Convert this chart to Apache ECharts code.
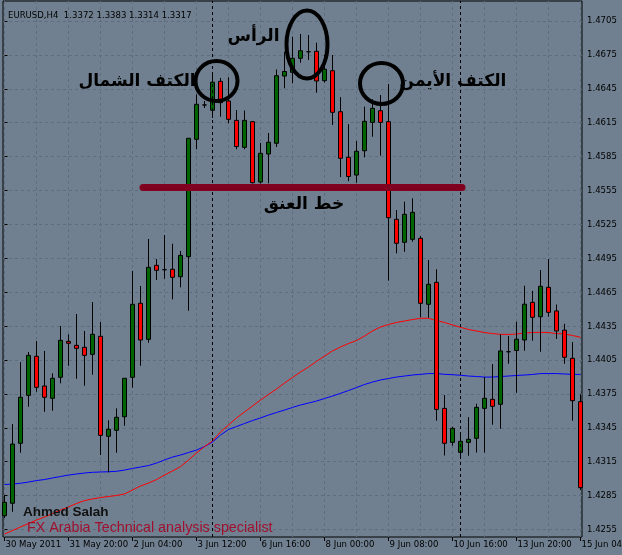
<!DOCTYPE html>
<html><head><meta charset="utf-8">
<script src="https://cdn.jsdelivr.net/npm/echarts/dist/echarts.min.js"></script>
<style>html,body{margin:0;padding:0;background:#708090;}#c{width:622px;height:555px;}</style>
</head><body><div id="c"></div>
<script>
const opens = [
1.42672,1.42782,1.43313,1.43737,1.44083,1.43820,1.43711,1.43897,1.44215,1.44180,
1.44162,1.44100,1.44260,1.43375,1.43428,1.43548,1.43897,1.44552,1.44233,1.44888,
1.44849,1.44853,1.44787,1.44964,1.46003,1.46307,1.46260,1.46516,1.46342,1.46171,
1.45932,1.46159,1.45625,1.45873,1.45968,1.46563,1.46596,1.46720,1.46778,1.46782,
1.46522,1.46610,1.46247,1.45844,1.45687,1.45902,1.46153,1.46256,1.46159,1.45295,
1.45092,1.45118,1.45127,1.44543,1.44737,1.43622,1.43321,1.43233,1.43321,1.43357,
1.43622,1.43702,1.43658,1.44123,1.44134,1.44227,1.44560,1.44433,1.44693,1.44484,
1.44314,1.44065,1.43681];
const closes = [
1.42790,1.43306,1.43720,1.44091,1.43808,1.43720,1.43888,1.44224,1.44198,1.44153,
1.44091,1.44277,1.43383,1.43437,1.43543,1.43888,1.44543,1.44227,1.44870,1.44844,
1.44849,1.44782,1.44976,1.46012,1.46313,1.46307,1.46508,1.46327,1.46180,1.45939,
1.46171,1.45619,1.45879,1.45977,1.46566,1.46603,1.46720,1.46787,1.46778,1.46519,
1.46623,1.46242,1.45835,1.45674,1.45897,1.46162,1.46277,1.46153,1.45309,1.45083,
1.45339,1.45357,1.44552,1.44720,1.43613,1.43313,1.43445,1.43330,1.43348,1.43631,
1.43711,1.43640,1.44130,1.44123,1.44234,1.44544,1.44428,1.44702,1.44472,1.44307,
1.44074,1.43690,1.42920];
const lows = [
1.42652,1.42707,1.43229,1.43637,1.43769,1.43592,1.43601,1.43844,1.43999,1.43884,
1.43822,1.43920,1.43209,1.43056,1.43229,1.43468,1.43805,1.43999,1.44203,1.44758,
1.44769,1.44587,1.44693,1.44486,1.45915,1.46280,1.46192,1.46203,1.46145,1.45915,
1.45915,1.45612,1.45612,1.45614,1.45935,1.46454,1.46499,1.46681,1.46705,1.46415,
1.46504,1.46130,1.45669,1.45632,1.45619,1.45844,1.46026,1.45858,1.44752,1.44994,
1.45008,1.45097,1.44428,1.44423,1.43513,1.43205,1.43291,1.43194,1.43203,1.43231,
1.43231,1.43477,1.43442,1.44017,1.43760,1.44132,1.44221,1.44123,1.44433,1.44236,
1.44017,1.43512,1.42899];
const highs = [
1.42855,1.43483,1.44032,1.44121,1.44218,1.44130,1.43932,1.44351,1.44277,1.44457,
1.44307,1.44563,1.44386,1.43516,1.43622,1.43890,1.44838,1.44705,1.45121,1.44944,
1.45156,1.45079,1.45015,1.46015,1.46401,1.46342,1.46572,1.46546,1.46552,1.46262,
1.46258,1.46165,1.45970,1.46059,1.46621,1.46778,1.46911,1.46935,1.46926,1.46858,
1.46749,1.46749,1.46377,1.46137,1.45988,1.46292,1.46357,1.46395,1.46492,1.45377,
1.45451,1.45481,1.45147,1.44935,1.44853,1.43740,1.43460,1.43386,1.43545,1.43663,
1.43899,1.44014,1.44277,1.44262,1.44389,1.44707,1.44662,1.44846,1.44944,1.44541,
1.44371,1.44209,1.43746];
const maRed = [
1.42510,1.42541,1.42572,1.42603,1.42634,1.42660,1.42691,1.42722,1.42749,1.42780,
1.42806,1.42820,1.42833,1.42842,1.42851,1.42864,1.42899,1.42935,1.42961,1.42992,
1.43032,1.43068,1.43106,1.43165,1.43227,1.43284,1.43333,1.43413,1.43475,1.43537,
1.43590,1.43643,1.43696,1.43745,1.43793,1.43846,1.43895,1.43944,1.43988,1.44037,
1.44085,1.44130,1.44165,1.44196,1.44222,1.44262,1.44307,1.44342,1.44364,1.44382,
1.44395,1.44408,1.44419,1.44419,1.44399,1.44382,1.44360,1.44339,1.44320,1.44307,
1.44293,1.44284,1.44277,1.44276,1.44280,1.44289,1.44293,1.44295,1.44293,1.44284,
1.44280,1.44267,1.44251];
const maBlue = [
1.42948,1.42952,1.42959,1.42970,1.42983,1.42992,1.43006,1.43019,1.43032,1.43041,
1.43050,1.43056,1.43059,1.43061,1.43065,1.43076,1.43090,1.43103,1.43116,1.43138,
1.43165,1.43191,1.43209,1.43231,1.43253,1.43284,1.43324,1.43386,1.43435,1.43461,
1.43488,1.43514,1.43537,1.43563,1.43585,1.43607,1.43630,1.43652,1.43669,1.43687,
1.43709,1.43731,1.43755,1.43780,1.43806,1.43833,1.43855,1.43873,1.43886,1.43899,
1.43908,1.43917,1.43923,1.43930,1.43930,1.43923,1.43920,1.43915,1.43908,1.43904,
1.43899,1.43899,1.43904,1.43908,1.43913,1.43917,1.43922,1.43930,1.43930,1.43930,
1.43926,1.43923,1.43922];
const dateLabels = ["30 May 2011","31 May 20:00","2 Jun 04:00","3 Jun 12:00","6 Jun 16:00","8 Jun 00:00","9 Jun 08:00","10 Jun 16:00","13 Jun 20:00","15 Jun 04:00"];
const dateBars = [0,8,16,24,32,40,48,56,64,72];
const gridBars = [0,4,8,12,16,20,24,28,32,36,40,44,48,52,56,60,64,68,72];
const priceTicks = [1.4255,1.4285,1.4315,1.4345,1.4375,1.4405,1.4435,1.4465,1.4495,1.4525,1.4555,1.4585,1.4615,1.4645,1.4675,1.4705];
const separatorBars = [26, 57];
const necklinePrice = 1.45577;
const necklineFrom = 17.31, necklineTo = 57.19;
const titleText = 'EURUSD,H4  1.3372 1.3383 1.3314 1.3317';

const FONT = '"DejaVu Sans Condensed","DejaVu Sans",sans-serif';
const GRID = '#5f6e7e';
const XMIN = -0.1875, XMAX = 72.1875;
const YMIN = 1.424836, YMAX = 1.47227;

const candles = opens.map((o, i) => [i, o, closes[i], lows[i], highs[i]]);

const chart = echarts.init(document.getElementById('c'));
chart.setOption({
  backgroundColor: '#708090',
  animation: false,
  title: { text: titleText, left: 3, top: 6,
    textStyle: { fontSize: 9.5, fontWeight: 'normal', color: '#000', fontFamily: FONT } },
  grid: { left: 3, top: 1, width: 579, height: 536, show: true, borderColor: '#000', borderWidth: 1,
    backgroundColor: 'transparent', containLabel: false, outerBoundsMode: 'none' },
  xAxis: [
    { type: 'value', min: XMIN, max: XMAX, position: 'bottom',
      axisLine: { show: false },
      axisTick: { show: true, length: 4, lineStyle: { color: '#000' }, customValues: dateBars },
      axisLabel: { customValues: dateBars, formatter: v => dateLabels[dateBars.indexOf(Math.round(v))],
        align: 'left', margin: 3, color: '#000', fontSize: 9.5, fontFamily: FONT, padding: [0,0,0,1] },
      splitLine: { show: false } },
    { type: 'value', min: XMIN, max: XMAX, position: 'top',
      axisLine: { show: false },
      axisTick: { show: false, customValues: gridBars },
      axisLabel: { show: false, customValues: gridBars },
      splitLine: { show: true, lineStyle: { color: GRID, type: [3, 3], width: 1 } } }
  ],
  yAxis: { type: 'value', position: 'right', min: YMIN, max: YMAX, scale: true,
    axisLine: { show: false },
    axisTick: { show: true, length: 3, lineStyle: { color: '#000' }, customValues: priceTicks },
    axisLabel: { customValues: priceTicks, formatter: v => v.toFixed(4), margin: 5, color: '#000', fontSize: 9.5, fontFamily: FONT },
    splitLine: { show: true, lineStyle: { color: GRID, type: [3, 3], width: 1 } } },
  series: [
    { type: 'line', data: maBlue.map((v, i) => [i, v]), symbol: 'none', silent: true,
      lineStyle: { color: '#0000ff', width: 1 }, z: 1 },
    { type: 'line', data: maRed.map((v, i) => [i, v]), symbol: 'none', silent: true,
      lineStyle: { color: '#ff0000', width: 1 }, z: 1 },
    { type: 'candlestick', data: candles, encode: { x: 0, y: [1, 2, 3, 4] }, barWidth: 5, z: 3,
      itemStyle: { color: '#006400', color0: '#ff0000', borderColor: '#000', borderColor0: '#000', borderColorDoji: '#000', borderWidth: 1 } },
    { type: 'line', data: [], silent: true, z: 5,
      markLine: { silent: true, symbol: ['none', 'none'], label: { show: false }, animation: false,
        data: [
          ...separatorBars.map(b => ({ xAxis: b, lineStyle: { color: '#000', width: 1, type: [3, 3] } })),
          [ { coord: [necklineFrom, necklinePrice], lineStyle: { color: '#800020', width: 7, type: 'solid', cap: 'round' } },
            { coord: [necklineTo, necklinePrice] } ]
        ] } }
  ],
  graphic: [
    { type: 'ellipse', shape: { cx: 216.5, cy: 81, rx: 21, ry: 20 }, style: { fill: null, stroke: '#000', lineWidth: 4 }, z: 100 },
    { type: 'ellipse', shape: { cx: 307, cy: 44.5, rx: 20.5, ry: 34 }, style: { fill: null, stroke: '#000', lineWidth: 4 }, z: 100 },
    { type: 'ellipse', shape: { cx: 381.5, cy: 83.5, rx: 21.5, ry: 20.5 }, style: { fill: null, stroke: '#000', lineWidth: 4 }, z: 100 },
    { type: 'text', z: 100, style: { text: 'الكتف الشمال', x: 137, y: 82, align: 'center', verticalAlign: 'middle', font: 'bold 17px "DejaVu Sans"', fill: '#000' } },
    { type: 'text', z: 100, style: { text: 'الرأس', x: 253.5, y: 37, align: 'center', verticalAlign: 'middle', font: 'bold 17px "DejaVu Sans"', fill: '#000' } },
    { type: 'text', z: 100, style: { text: 'الكتف الأيمن', x: 453, y: 82, align: 'center', verticalAlign: 'middle', font: 'bold 17px "DejaVu Sans"', fill: '#000' } },
    { type: 'text', z: 100, style: { text: 'خط العنق', x: 304, y: 205, align: 'center', verticalAlign: 'middle', font: 'bold 17px "DejaVu Sans"', fill: '#000' } },
    { type: 'text', z: 100, style: { text: 'Ahmed Salah', x: 23, y: 512, align: 'left', verticalAlign: 'middle', font: 'bold 13.5px "Liberation Sans"', fill: '#111' } },
    { type: 'text', z: 100, style: { text: 'FX Arabia Technical analysis specialist', x: 27, y: 528, align: 'left', verticalAlign: 'middle', font: '14.3px "Liberation Sans"', fill: '#a0102e' } }
  ]
});
</script>
</body></html>
